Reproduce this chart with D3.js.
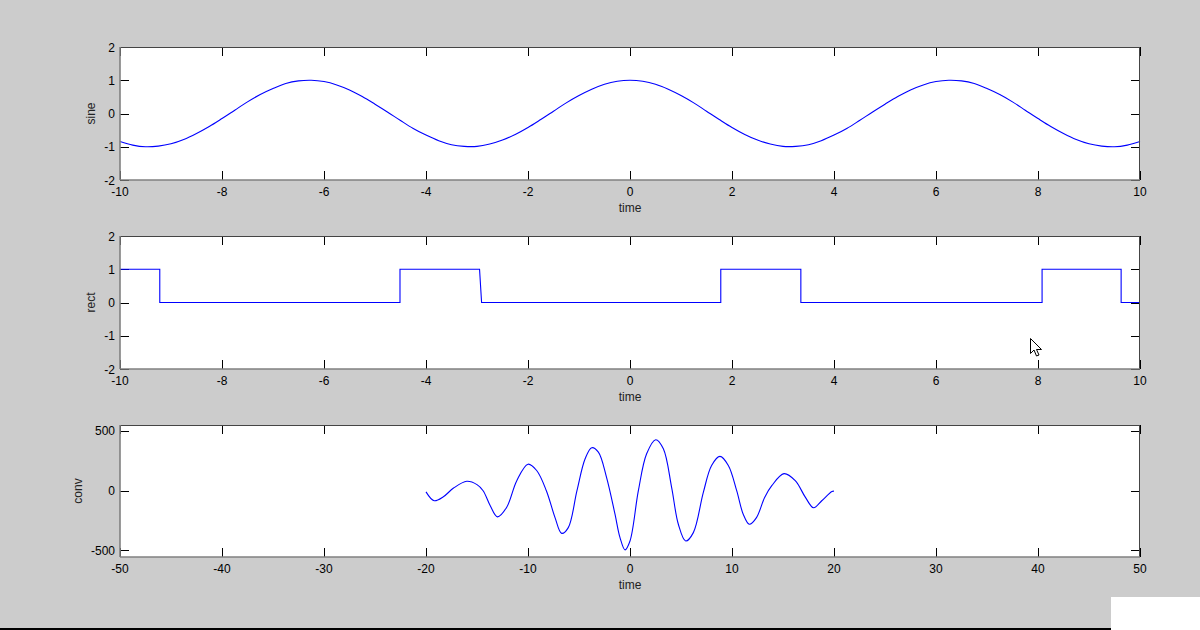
<!DOCTYPE html>
<html>
<head>
<meta charset="utf-8">
<script src="https://cdn.jsdelivr.net/npm/d3@7/dist/d3.min.js"></script>
<style>
  html, body { margin: 0; padding: 0; background: #cccccc; }
  svg { display: block; }
  text { font-family: "Liberation Sans", Arial, sans-serif; }
</style>
</head>
<body>
<svg id="chart" width="1200" height="630"></svg>
<script>
// ---------- DATA ----------
// sine panel: samples every 0.25 from -10 to 10
const sineStart = -10;
const sineStep = 0.25;
const sineValues = [
  -0.84, -0.95, -1.00, -0.98, -0.91, -0.78, -0.60, -0.39, -0.15, 0.10,
   0.35,  0.57,  0.75,  0.90,  0.98,  1.00,  0.96,  0.86,  0.71, 0.51,
   0.28,  0.04, -0.21, -0.45, -0.65, -0.82, -0.94, -0.99, -0.99, -0.92,
  -0.80, -0.63, -0.42, -0.18,  0.07,  0.32,  0.54,  0.73,  0.88, 0.97,
   1.00,
   0.97,  0.88,  0.73,  0.54,  0.32,  0.07, -0.18, -0.42, -0.63, -0.80,
  -0.92, -0.99, -0.99, -0.94, -0.82, -0.65, -0.45, -0.21,  0.04, 0.28,
   0.51,  0.71,  0.86,  0.96,  1.00,  0.98,  0.90,  0.75,  0.57, 0.35,
   0.10, -0.15, -0.39, -0.60, -0.78, -0.91, -0.98, -1.00, -0.95, -0.84
];

// rect panel: step points
const rectTime  = [-10, -9.22, -9.22, -4.51, -4.51, -2.95, -2.91, 1.78, 1.78, 3.35, 3.35, 8.08, 8.08, 9.63, 9.63, 10];
const rectValue = [  1,     1,     0,     0,     1,     1,     0,    0,    1,    1,    0,    0,    1,    1,    0,  0];

// conv panel
const convTime = [
  -20.0, -19.2, -18.3, -17.3, -16.0, -15.0, -14.4, -13.7, -13.0, -12.1,
  -11.1, -10.0, -9.15, -8.2, -7.35, -6.7, -6.05, -5.2, -4.4, -3.75,
  -3.1, -2.3, -1.47, -0.98, -0.49, 0.0, 0.82, 1.63, 2.52, 3.27,
  4.08, 4.74, 5.46, 6.21, 7.19, 8.0, 8.82, 9.64, 10.46, 11.1,
  11.7, 12.4, 13.2, 13.9, 15.1, 16.2, 17.2, 18.0, 18.8, 19.8, 20.0
];
const convValue = [
  -10, -84, -51, 22, 79, 51, 0, -126, -219, -140,
  84, 222, 169, 0, -225, -357, -309, 0, 267, 360,
  323, 112, -197, -393, -495, -421, 0, 309, 427, 351,
  28, -281, -421, -351, -14, 211, 287, 211, 0, -197,
  -281, -225, -56, 42, 143, 84, -56, -143, -84, -6, -4
];

// axis ticks
const sineXTicks = [-10, -8, -6, -4, -2, 0, 2, 4, 6, 8, 10];
const sineYTicks = [-2, -1, 0, 1, 2];
const convXTicks = [-50, -40, -30, -20, -10, 0, 10, 20, 30, 40, 50];
const convYTicks = [-500, 0, 500];

// ---------- DRAW ----------
const svg = d3.select("#chart");
const left = 120, right = 1140;

svg.append("rect").attr("width", 1200).attr("height", 630).attr("fill", "#cccccc");

function panel(opts) {
  const { top, bottom, xDomain, yDomain, xTicks, yTicks, ylabel, ylabelX, points } = opts;
  const x = d3.scaleLinear().domain(xDomain).range([left, right]);
  const y = d3.scaleLinear().domain(yDomain).range([bottom, top]);
  const g = svg.append("g");

  g.append("rect").attr("x", left).attr("y", top)
    .attr("width", right - left).attr("height", bottom - top)
    .attr("fill", "#ffffff");

  const tl = 9;
  // x ticks (bottom & top, inward)
  xTicks.forEach(v => {
    const px = Math.round(x(v)) + 0.5;
    g.append("line").attr("x1", px).attr("x2", px).attr("y1", bottom).attr("y2", bottom - tl)
      .attr("stroke", "#000").attr("stroke-width", 1);
    g.append("line").attr("x1", px).attr("x2", px).attr("y1", top).attr("y2", top + tl)
      .attr("stroke", "#000").attr("stroke-width", 1);
    g.append("text").attr("x", x(v)).attr("y", bottom + 16)
      .attr("text-anchor", "middle").attr("font-size", 12).attr("fill", "#000")
      .text(v);
  });
  // y ticks (left & right, inward)
  yTicks.forEach(v => {
    const py = Math.round(y(v)) + 0.5;
    g.append("line").attr("x1", left).attr("x2", left + tl).attr("y1", py).attr("y2", py)
      .attr("stroke", "#000").attr("stroke-width", 1);
    g.append("line").attr("x1", right).attr("x2", right - tl).attr("y1", py).attr("y2", py)
      .attr("stroke", "#000").attr("stroke-width", 1);
    g.append("text").attr("x", left - 5).attr("y", y(v) + 4.5)
      .attr("text-anchor", "end").attr("font-size", 12).attr("fill", "#000")
      .text(v);
  });

  // data line
  const line = d3.line().x(d => x(d[0])).y(d => y(d[1])).curve(opts.curve || d3.curveLinear);
  g.append("path").datum(points).attr("d", line)
    .attr("fill", "none").attr("stroke", "#0000ff").attr("stroke-width", 1.1);

  // frame
  g.append("line").attr("x1", left).attr("x2", right).attr("y1", top + 0.5).attr("y2", top + 0.5)
    .attr("stroke", "#444").attr("stroke-width", 1);
  g.append("line").attr("x1", right - 0.5).attr("x2", right - 0.5).attr("y1", top).attr("y2", bottom)
    .attr("stroke", "#444").attr("stroke-width", 1);
  g.append("line").attr("x1", left).attr("x2", right).attr("y1", bottom).attr("y2", bottom)
    .attr("stroke", "#808080").attr("stroke-width", 1.6);
  g.append("line").attr("x1", left).attr("x2", left).attr("y1", top).attr("y2", bottom)
    .attr("stroke", "#808080").attr("stroke-width", 1.6);

  // labels
  g.append("text").attr("x", (left + right) / 2).attr("y", bottom + 32)
    .attr("text-anchor", "middle").attr("font-size", 12).attr("fill", "#222")
    .text("time");
  g.append("text")
    .attr("transform", `translate(${ylabelX},${(top + bottom) / 2}) rotate(-90)`)
    .attr("text-anchor", "middle").attr("font-size", 12).attr("fill", "#222")
    .text(ylabel);
}

panel({
  top: 47, bottom: 180, xDomain: [-10, 10], yDomain: [-2, 2],
  xTicks: sineXTicks, yTicks: sineYTicks, ylabel: "sine", ylabelX: 95,
  points: sineValues.map((v, i) => [sineStart + i * sineStep, v]),
  curve: d3.curveCatmullRom
});

panel({
  top: 236, bottom: 369, xDomain: [-10, 10], yDomain: [-2, 2],
  xTicks: sineXTicks, yTicks: sineYTicks, ylabel: "rect", ylabelX: 95,
  points: rectTime.map((t, i) => [t, rectValue[i]])
});

panel({
  top: 425, bottom: 557, xDomain: [-50, 50], yDomain: [-555, 550],
  xTicks: convXTicks, yTicks: convYTicks, ylabel: "conv", ylabelX: 82,
  points: convTime.map((t, i) => [t, convValue[i]]),
  curve: d3.curveCatmullRom
});

// mouse cursor
svg.append("path")
  .attr("transform", "translate(1030.5,338.5)")
  .attr("d", "M0,0 L0,15 L3.5,11.5 L6,17.5 L8.5,16.5 L6,11 L11,11 Z")
  .attr("fill", "#fff").attr("stroke", "#000").attr("stroke-width", 1);

// bottom window edge and white box
svg.append("rect").attr("x", 0).attr("y", 628).attr("width", 1111).attr("height", 2).attr("fill", "#000");
svg.append("rect").attr("x", 1111).attr("y", 597).attr("width", 89).attr("height", 33).attr("fill", "#ffffff");
</script>
</body>
</html>
